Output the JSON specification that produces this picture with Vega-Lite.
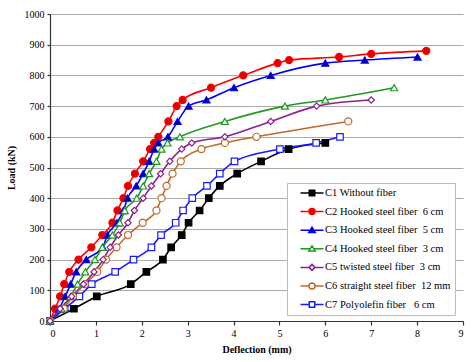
{
  "$schema": "https://vega.github.io/schema/vega-lite/v6.json",
  "width": 413,
  "height": 307,
  "autosize": "none",
  "padding": {"left": 50, "top": 14, "right": 11, "bottom": 41},
  "background": "white",
  "config": {
    "view": {"stroke": null},
    "font": "Liberation Serif",
    "axis": {"labelFont": "Liberation Serif", "titleFont": "Liberation Serif", "labelColor": "black", "titleColor": "black", "labelFontSize": 10, "titleFontSize": 10, "titleFontWeight": "bold", "domainColor": "#333", "tickColor": "#333", "domainWidth": 1.2, "tickWidth": 1.2, "gridColor": "#aaaaaa", "gridWidth": 1},
    "legend": {"orient": "none", "legendX": 237, "legendY": 169, "title": null,
          "padding": 4, "fillColor": "white", "strokeColor": "#bbbbbb",
          "symbolSize": 100, "symbolStrokeWidth": 1.5, "symbolOffset": 15, "rowPadding": 6.6, "labelOffset": 7,
          "labelFont": "Liberation Serif", "labelFontSize": 10.5, "labelColor": "black"}
  },
  "data": {"values": [
    {"s":"C1","x":0,"y":0},{"s":"C1","x":0.52,"y":40},{"s":"C1","x":1.02,"y":80},{"s":"C1","x":1.76,"y":120},{"s":"C1","x":2.1,"y":160},{"s":"C1","x":2.46,"y":200},{"s":"C1","x":2.64,"y":240},{"s":"C1","x":2.87,"y":280},{"s":"C1","x":3.02,"y":320},{"s":"C1","x":3.26,"y":360},{"s":"C1","x":3.46,"y":400},{"s":"C1","x":3.7,"y":440},{"s":"C1","x":4.08,"y":480},{"s":"C1","x":4.6,"y":520},{"s":"C1","x":5.2,"y":560},{"s":"C1","x":6.0,"y":580},
    {"s":"C2","x":0,"y":0},{"s":"C2","x":0.11,"y":40},{"s":"C2","x":0.22,"y":80},{"s":"C2","x":0.31,"y":120},{"s":"C2","x":0.42,"y":160},{"s":"C2","x":0.62,"y":200},{"s":"C2","x":0.9,"y":240},{"s":"C2","x":1.14,"y":280},{"s":"C2","x":1.36,"y":320},{"s":"C2","x":1.47,"y":360},{"s":"C2","x":1.6,"y":400},{"s":"C2","x":1.7,"y":440},{"s":"C2","x":1.85,"y":480},{"s":"C2","x":2.03,"y":520},{"s":"C2","x":2.18,"y":560},{"s":"C2","x":2.27,"y":580},{"s":"C2","x":2.36,"y":600},{"s":"C2","x":2.58,"y":650},{"s":"C2","x":2.76,"y":700},{"s":"C2","x":2.89,"y":720},{"s":"C2","x":3.51,"y":760},{"s":"C2","x":4.21,"y":800},{"s":"C2","x":4.96,"y":840},{"s":"C2","x":5.21,"y":850},{"s":"C2","x":6.3,"y":860},{"s":"C2","x":7.0,"y":870},{"s":"C2","x":8.2,"y":880},
    {"s":"C3","x":0,"y":0},{"s":"C3","x":0.2,"y":40},{"s":"C3","x":0.33,"y":80},{"s":"C3","x":0.45,"y":120},{"s":"C3","x":0.57,"y":160},{"s":"C3","x":0.79,"y":200},{"s":"C3","x":1.15,"y":240},{"s":"C3","x":1.25,"y":280},{"s":"C3","x":1.46,"y":320},{"s":"C3","x":1.6,"y":360},{"s":"C3","x":1.69,"y":400},{"s":"C3","x":1.88,"y":440},{"s":"C3","x":2.03,"y":480},{"s":"C3","x":2.16,"y":520},{"s":"C3","x":2.27,"y":560},{"s":"C3","x":2.36,"y":580},{"s":"C3","x":2.57,"y":600},{"s":"C3","x":2.78,"y":650},{"s":"C3","x":3.02,"y":700},{"s":"C3","x":3.41,"y":720},{"s":"C3","x":4.01,"y":760},{"s":"C3","x":4.81,"y":800},{"s":"C3","x":6.0,"y":840},{"s":"C3","x":6.86,"y":850},{"s":"C3","x":8.01,"y":860},
    {"s":"C4","x":0,"y":0},{"s":"C4","x":0.25,"y":40},{"s":"C4","x":0.45,"y":80},{"s":"C4","x":0.6,"y":120},{"s":"C4","x":0.77,"y":160},{"s":"C4","x":0.98,"y":200},{"s":"C4","x":1.14,"y":240},{"s":"C4","x":1.36,"y":280},{"s":"C4","x":1.52,"y":320},{"s":"C4","x":1.63,"y":360},{"s":"C4","x":1.89,"y":400},{"s":"C4","x":2.03,"y":440},{"s":"C4","x":2.16,"y":480},{"s":"C4","x":2.32,"y":520},{"s":"C4","x":2.43,"y":560},{"s":"C4","x":2.56,"y":580},{"s":"C4","x":2.83,"y":600},{"s":"C4","x":3.81,"y":650},{"s":"C4","x":5.12,"y":700},{"s":"C4","x":6.0,"y":720},{"s":"C4","x":7.5,"y":760},
    {"s":"C5","x":0,"y":0},{"s":"C5","x":0.22,"y":40},{"s":"C5","x":0.47,"y":80},{"s":"C5","x":0.73,"y":120},{"s":"C5","x":0.96,"y":160},{"s":"C5","x":1.16,"y":200},{"s":"C5","x":1.31,"y":240},{"s":"C5","x":1.49,"y":280},{"s":"C5","x":1.7,"y":320},{"s":"C5","x":1.84,"y":360},{"s":"C5","x":2.03,"y":400},{"s":"C5","x":2.21,"y":440},{"s":"C5","x":2.41,"y":480},{"s":"C5","x":2.61,"y":520},{"s":"C5","x":2.87,"y":560},{"s":"C5","x":3.09,"y":580},{"s":"C5","x":3.81,"y":600},{"s":"C5","x":4.81,"y":650},{"s":"C5","x":5.81,"y":700},{"s":"C5","x":7.0,"y":720},
    {"s":"C6","x":0,"y":0},{"s":"C6","x":0.3,"y":40},{"s":"C6","x":0.5,"y":80},{"s":"C6","x":0.76,"y":120},{"s":"C6","x":1.03,"y":160},{"s":"C6","x":1.22,"y":200},{"s":"C6","x":1.45,"y":240},{"s":"C6","x":1.7,"y":280},{"s":"C6","x":2.02,"y":320},{"s":"C6","x":2.32,"y":360},{"s":"C6","x":2.43,"y":400},{"s":"C6","x":2.54,"y":440},{"s":"C6","x":2.67,"y":480},{"s":"C6","x":2.85,"y":520},{"s":"C6","x":3.3,"y":560},{"s":"C6","x":3.81,"y":580},{"s":"C6","x":4.5,"y":600},{"s":"C6","x":6.5,"y":650},
    {"s":"C7","x":0,"y":0},{"s":"C7","x":0.32,"y":40},{"s":"C7","x":0.64,"y":80},{"s":"C7","x":0.91,"y":120},{"s":"C7","x":1.42,"y":160},{"s":"C7","x":1.82,"y":200},{"s":"C7","x":2.21,"y":240},{"s":"C7","x":2.42,"y":280},{"s":"C7","x":2.74,"y":320},{"s":"C7","x":2.9,"y":360},{"s":"C7","x":3.1,"y":400},{"s":"C7","x":3.42,"y":440},{"s":"C7","x":3.7,"y":480},{"s":"C7","x":4.02,"y":520},{"s":"C7","x":5.01,"y":560},{"s":"C7","x":5.8,"y":580},{"s":"C7","x":6.32,"y":600}
  ]},
  "encoding": {
    "x": {"field": "x", "type": "quantitative", "scale": {"domain": [0, 9], "nice": false}, "axis": {"title": "Deflection (mm)", "values": [0,1,2,3,4,5,6,7,8,9], "format": "d", "grid": false, "tickSize": 4, "labelPadding": 3, "titlePadding": 6, "labelFont": "Liberation Serif", "titleFont": "Liberation Serif"}},
    "y": {"field": "y", "type": "quantitative", "scale": {"domain": [0, 1000], "nice": false}, "axis": {"title": "Load (kN)", "values": [0,100,200,300,400,500,600,700,800,900,1000], "format": "d", "grid": true, "tickSize": 3, "labelPadding": 3, "titlePadding": 8, "labelFont": "Liberation Serif", "titleFont": "Liberation Serif"}},
    "stroke": {"field": "s", "type": "nominal", "scale": {"domain": ["C1","C2","C3","C4","C5","C6","C7"], "range": ["#000000","#ff0000","#0000ff","#1f9a1f","#8e1f8e","#c0692a","#1a1aff"]},
      "legend": {"labelExpr": "{'C1':'C1 Without fiber','C2':'C2 Hooked steel fiber\u00a0 6 cm','C3':'C3 Hooked steel fiber\u00a0 5 cm','C4':'C4 Hooked steel fiber\u00a0 3 cm','C5':'C5 twisted steel fiber\u00a0 3 cm','C6':'C6 straight steel fiber\u00a0 12 mm','C7':'C7 Polyolefin fiber\u00a0\u00a0 6 cm'}[datum.label]"}}
  },
  "layer": [
    {"mark": {"type": "line", "interpolate": "monotone", "strokeWidth": 1.6}},
    {"transform": [{"filter": {"field": "s", "oneOf": ["C1","C7"]}}],
     "mark": {"type": "point", "shape": "square", "filled": true, "size": 42, "strokeWidth": 1.2, "opacity": 1},
     "encoding": {"fill": {"field": "s", "type": "nominal", "scale": {"domain": ["C1","C2","C3","C4","C5","C6","C7"], "range": ["#000000","#e00000","#000080","#ffffff","#ffffff","#ffffff","#ffffff"]}}}},
    {"transform": [{"filter": {"field": "s", "oneOf": ["C2","C6"]}}],
     "mark": {"type": "point", "shape": "circle", "filled": true, "size": 50, "strokeWidth": 1.2, "opacity": 1},
     "encoding": {"fill": {"field": "s", "type": "nominal"}}},
    {"transform": [{"filter": {"field": "s", "oneOf": ["C3","C4"]}}],
     "mark": {"type": "point", "shape": "triangle-up", "filled": true, "size": 50, "strokeWidth": 1.2, "opacity": 1},
     "encoding": {"fill": {"field": "s", "type": "nominal"}}},
    {"transform": [{"filter": {"field": "s", "equal": "C5"}}],
     "mark": {"type": "point", "shape": "diamond", "filled": true, "size": 40, "strokeWidth": 1.2, "opacity": 1},
     "encoding": {"fill": {"field": "s", "type": "nominal"}}},
    {"transform": [{"filter": {"field": "y", "lt": -1}}],
     "mark": {"type": "point", "filled": true, "strokeWidth": 1.5, "opacity": 1},
     "encoding": {
       "fill": {"field": "s", "type": "nominal"},
       "shape": {"field": "s", "type": "nominal", "scale": {"domain": ["C1","C2","C3","C4","C5","C6","C7"], "range": [
          "M-2.3,0H-0.55M0.55,0H2.3M-0.55,-0.55H0.55V0.55H-0.55Z",
          "M-2.3,0H-0.6M0.6,0H2.3M0.6,0C0.6,0.33 0.33,0.6 0,0.6C-0.33,0.6 -0.6,0.33 -0.6,0C-0.6,-0.33 -0.33,-0.6 0,-0.6C0.33,-0.6 0.6,-0.33 0.6,0Z",
          "M-2.3,0H-0.45M0.45,0H2.3M0,-0.6L0.65,0.45L-0.65,0.45Z",
          "M-2.3,0H-0.45M0.45,0H2.3M0,-0.6L0.65,0.45L-0.65,0.45Z",
          "M-2.3,0H-0.6M0.6,0H2.3M0,-0.6L0.6,0L0,0.6L-0.6,0Z",
          "M-2.3,0H-0.6M0.6,0H2.3M0.6,0C0.6,0.33 0.33,0.6 0,0.6C-0.33,0.6 -0.6,0.33 -0.6,0C-0.6,-0.33 -0.33,-0.6 0,-0.6C0.33,-0.6 0.6,-0.33 0.6,0Z",
          "M-2.3,0H-0.55M0.55,0H2.3M-0.55,-0.55H0.55V0.55H-0.55Z"]}}
     }}
  ]
}
